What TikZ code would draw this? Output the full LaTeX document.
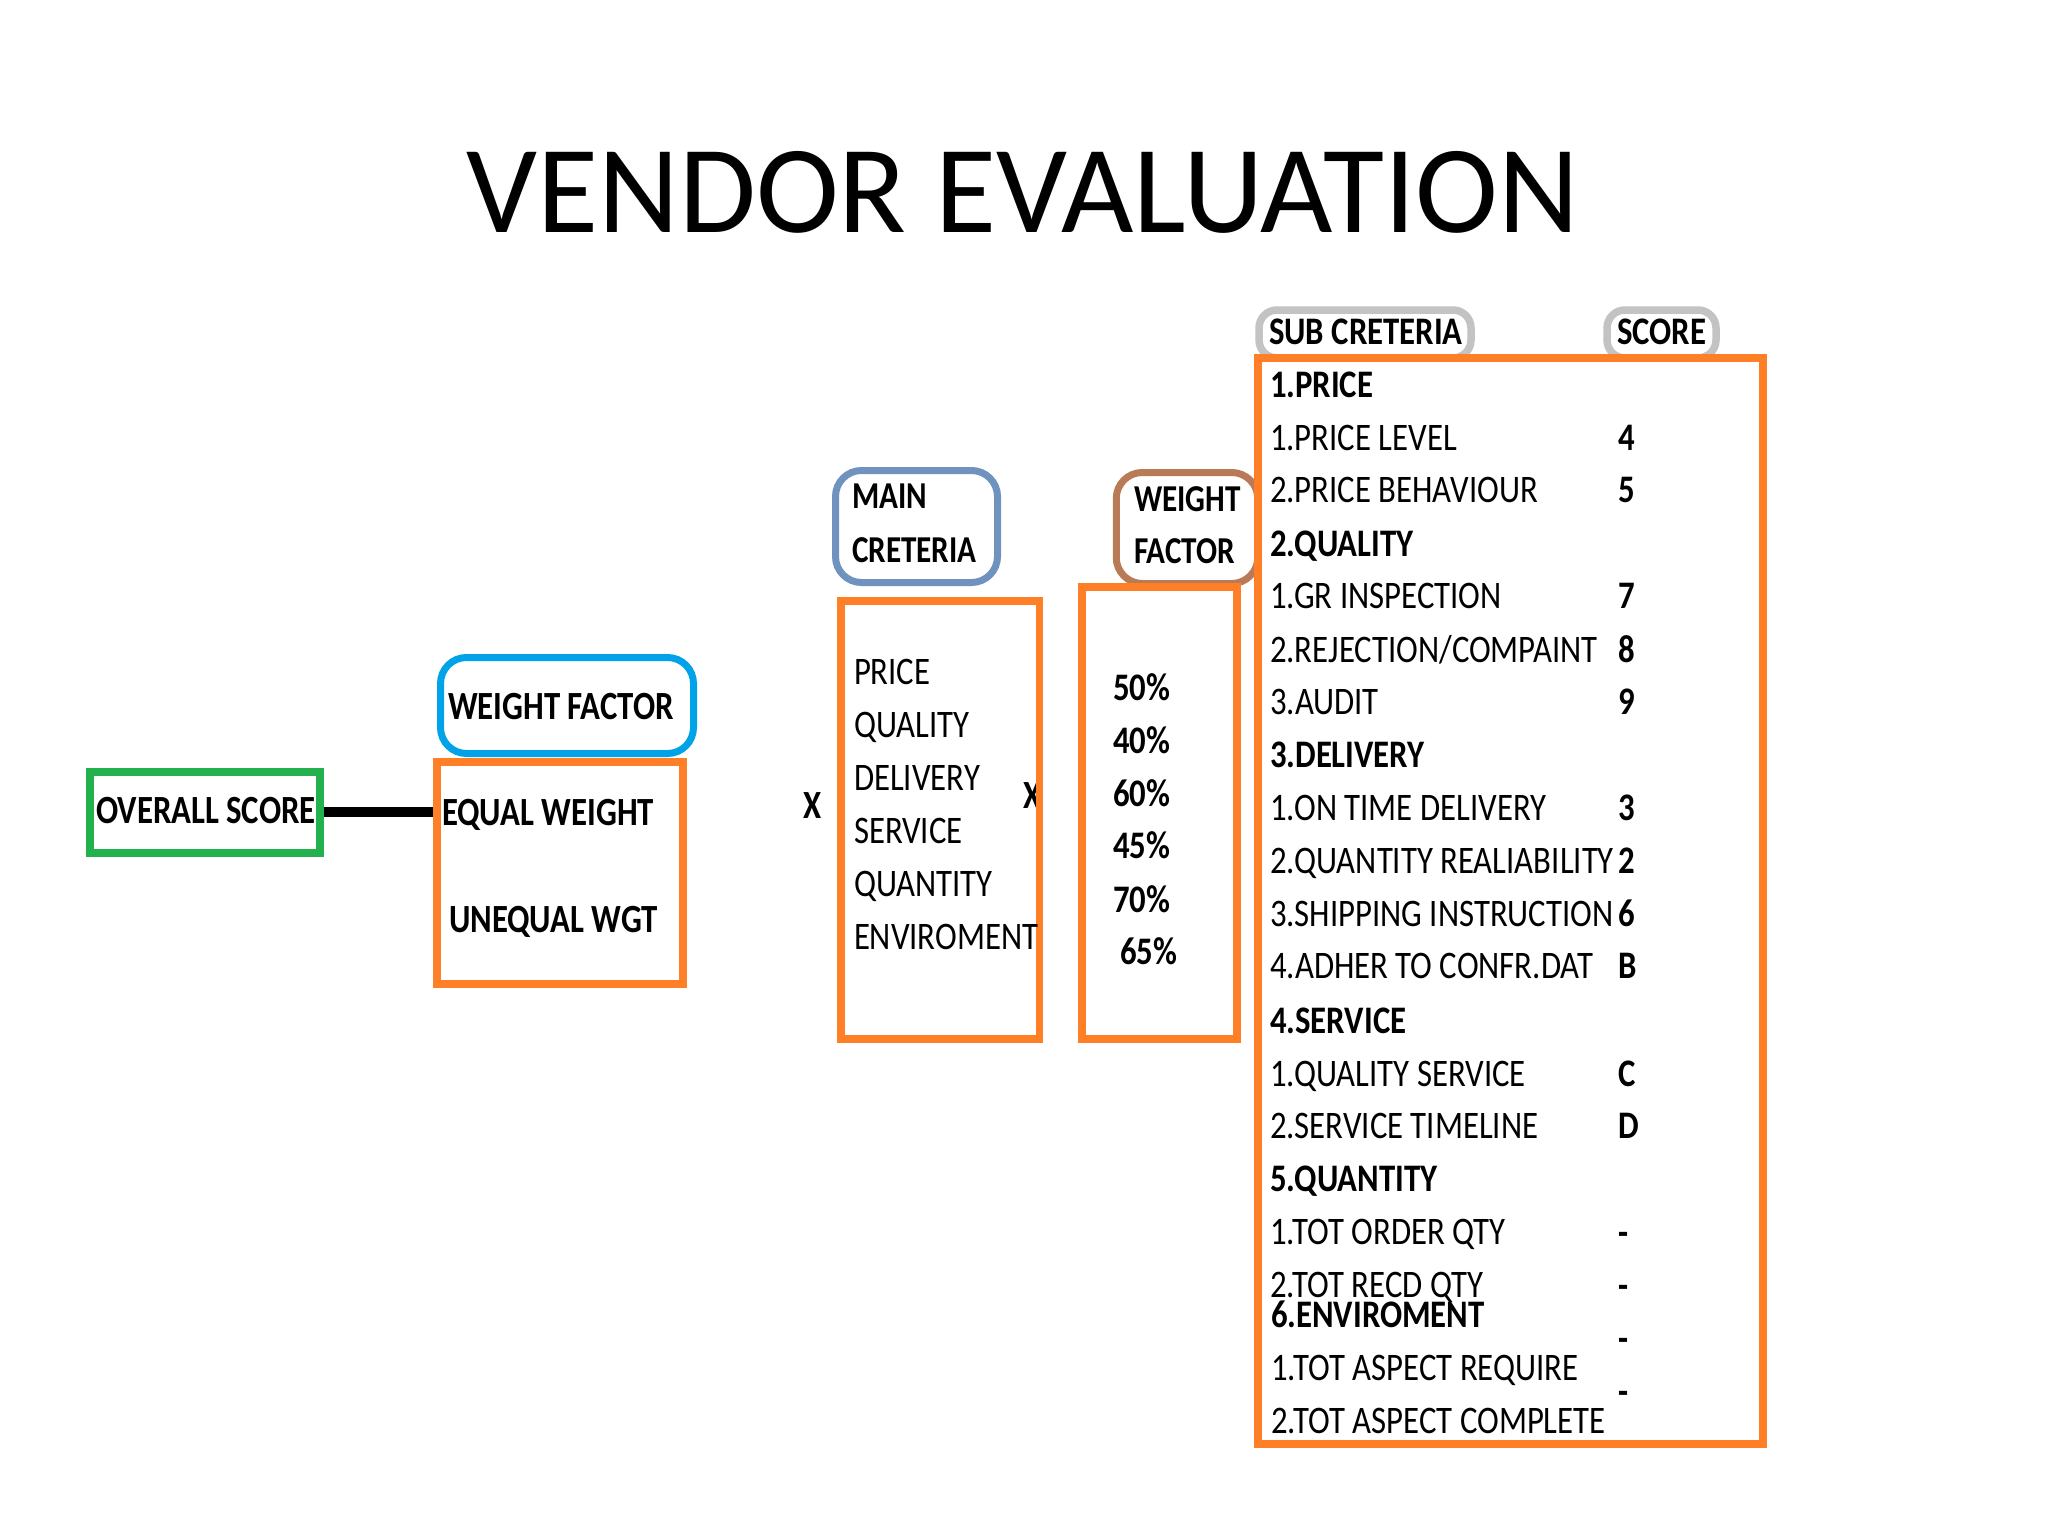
\documentclass[tikz,border=0pt]{standalone}
\usepackage{fontspec}
\newfontfamily\titlefont{Carlito}
\newfontfamily\cfr[FakeStretch=0.84]{Carlito}
\newfontfamily\cfs[FakeStretch=0.84]{Carlito}
\newfontfamily\cfl[FakeStretch=0.82]{Carlito}
\definecolor{pOrange}{HTML}{FF7F27}
\definecolor{pGreen}{HTML}{22B14C}
\definecolor{pBlue}{HTML}{00A2E8}
\definecolor{pSteel}{HTML}{7092BE}
\definecolor{pBrown}{HTML}{B97A57}
\definecolor{pGray}{HTML}{C3C3C3}
\tikzset{
  txt/.style={anchor=base west, inner sep=0pt, outer sep=0pt, font=\cfr\fontsize{39}{47}\selectfont},
  btxt/.style={anchor=base west, inner sep=0pt, outer sep=0pt, font=\cfs\bfseries\fontsize{39}{47}\selectfont},
  bigb/.style={anchor=base west, inner sep=0pt, outer sep=0pt, font=\cfl\bfseries\fontsize{40}{48}\selectfont},
  hdr/.style={anchor=base west, inner sep=0pt, outer sep=0pt, font=\cfl\bfseries\fontsize{38}{46}\selectfont},
  frame/.style={draw=#1, inner sep=0pt, rectangle},
  rframe/.style={draw=#1, inner sep=0pt, rectangle, rounded corners=26pt},
}
\begin{document}
\begin{tikzpicture}[x=1pt,y=-1pt]
\fill[white] (0,0) rectangle (2048,1536);
\useasboundingbox (0,0) rectangle (2048,1536);

% title
\node[anchor=base, inner sep=0pt, font=\titlefont\fontsize{125}{140}\selectfont] (title) at (1023,232) {VENDOR EVALUATION};

% left part
\node[frame=pGreen, line width=8pt, minimum width=229.5pt, minimum height=81pt] (os) at (204.75,812) {};
\node[rframe=pBlue, line width=7pt, minimum width=253pt, minimum height=96pt] (wfh) at (567,705.5) {};
\node[frame=pOrange, line width=7.5pt, minimum width=246pt, minimum height=222pt] (ewb) at (560,873) {};
\draw[line width=10pt] (os.east) -- (os.east -| ewb.west);

\node[bigb] (ostxt) at (96,823) {OVERALL SCORE};
\node[bigb] (wftxt) at (448,719) {WEIGHT FACTOR};
\node[bigb] (eqw) at (442,825) {EQUAL WEIGHT};
\node[bigb] (uqw) at (449,932) {UNEQUAL WGT};

% X marks
\node[bigb] (x1) at (803,818) {X};
\node[bigb] (x2) at (1023,808) {X};

% main criteria
\node[rframe=pSteel, line width=7pt, minimum width=162pt, minimum height=112pt] (mch) at (916.5,526.5) {};
\node[hdr] (mct1) at (852,508) {MAIN};
\node[hdr] (mct2) at (852,562) {CRETERIA};
\node[frame=pOrange, line width=7.5pt, minimum width=198.5pt, minimum height=438pt] (mcb) at (940.25,820) {};
\node[txt] (m1) at (854,684) {PRICE};
\node[txt] (m2) at (854,737) {QUALITY};
\node[txt] (m3) at (854,790) {DELIVERY};
\node[txt] (m4) at (854,843) {SERVICE};
\node[txt] (m5) at (854,896) {QUANTITY};
\node[txt] (m6) at (854,949) {ENVIROMENT};

% weight factor column
\node[rframe=pBrown, line width=7pt, minimum width=141.5pt, minimum height=111pt] (wf2h) at (1187,528) {};
\node[hdr] (wf2t1) at (1134,511) {WEIGHT};
\node[hdr] (wf2t2) at (1134,563) {FACTOR};
\node[frame=pOrange, line width=8pt, minimum width=154.5pt, minimum height=452pt] (wfb) at (1159.25,813) {};
\node[btxt] (p1) at (1113,700) {50\%};
\node[btxt] (p2) at (1113,753) {40\%};
\node[btxt] (p3) at (1113,806) {60\%};
\node[btxt] (p4) at (1113,858) {45\%};
\node[btxt] (p5) at (1113,912) {70\%};
\node[btxt] (p6) at (1120,964) {65\%};

% sub criteria
\node[rframe=pGray, line width=7.5pt, minimum width=212pt, minimum height=48pt, rounded corners=18pt] (sch) at (1365,334) {};
\node[rframe=pGray, line width=7.5pt, minimum width=109pt, minimum height=48pt, rounded corners=18pt] (sco) at (1661.5,334) {};
\node[frame=pOrange, line width=8pt, minimum width=505pt, minimum height=1086.5pt] (scb) at (1510.5,900.75) {};
\node[btxt] (scht) at (1269,344) {SUB CRETERIA};
\node[btxt] (scot) at (1617,344) {SCORE};

\node[btxt] (s1) at (1270,397) {1.PRICE};
\node[txt] (s2) at (1270,450) {1.PRICE LEVEL};
\node[txt] (s3) at (1270,502) {2.PRICE BEHAVIOUR};
\node[btxt] (s4) at (1270,556) {2.QUALITY};
\node[txt] (s5) at (1270,608) {1.GR INSPECTION};
\node[txt] (s6) at (1270,662) {2.REJECTION/COMPAINT};
\node[txt] (s7) at (1270,714) {3.AUDIT};
\node[btxt] (s8) at (1270,767) {3.DELIVERY};
\node[txt] (s9) at (1270,820) {1.ON TIME DELIVERY};
\node[txt] (s10) at (1270,873) {2.QUANTITY REALIABILITY};
\node[txt] (s11) at (1270,926) {3.SHIPPING INSTRUCTION};
\node[txt] (s12) at (1270,978) {4.ADHER TO CONFR.DAT};
\node[btxt] (s13) at (1270,1033) {4.SERVICE};
\node[txt] (s14) at (1270,1086) {1.QUALITY SERVICE};
\node[txt] (s15) at (1270,1138) {2.SERVICE TIMELINE};
\node[btxt] (s16) at (1270,1191) {5.QUANTITY};
\node[txt] (s17) at (1270,1244) {1.TOT ORDER QTY};
\node[txt] (s18) at (1270,1297) {2.TOT RECD QTY};
\node[btxt] (s19) at (1271,1327) {6.ENVIROMENT};
\node[txt] (s20) at (1271,1380) {1.TOT ASPECT REQUIRE};
\node[txt] (s21) at (1271,1433) {2.TOT ASPECT COMPLETE};

\node[btxt] (v1) at (1618,450) {4};
\node[btxt] (v2) at (1618,502) {5};
\node[btxt] (v3) at (1618,608) {7};
\node[btxt] (v4) at (1618,662) {8};
\node[btxt] (v5) at (1618,714) {9};
\node[btxt] (v6) at (1618,820) {3};
\node[btxt] (v7) at (1618,873) {2};
\node[btxt] (v8) at (1618,926) {6};
\node[btxt] (v9) at (1618,978) {B};
\node[btxt] (v10) at (1618,1086) {C};
\node[btxt] (v11) at (1618,1138) {D};
\node[btxt] (v12) at (1618,1245) {-};
\node[btxt] (v13) at (1618,1298) {-};
\node[btxt] (v14) at (1618,1351) {-};
\node[btxt] (v15) at (1618,1404) {-};
\end{tikzpicture}
\end{document}
